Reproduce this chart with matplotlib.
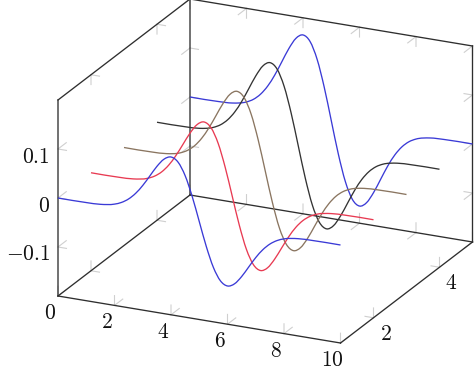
import numpy as np
import matplotlib
matplotlib.use("Agg")
from matplotlib import pyplot as plt
from matplotlib.path import Path
from matplotlib.patches import PathPatch

plt.rcParams["mathtext.fontset"] = "cm"

# 곡선 데이터
x = [0, 1, 1.5, 2, 2.25, 2.5, 2.75, 3, 3.25, 3.5, 3.75, 4, 4.25, 4.5, 4.75, 5,
     5.25, 5.5, 5.75, 6, 6.25, 6.5, 6.75, 7, 7.25, 7.5, 7.75, 8, 8.5, 9, 10]
z1 = [0, .0003, .0015, .0067, .0126, .0221, .0360, .0544, .0761, .0980, .1151, .1220, .1139, .0888, .0487, 0,
      -.0487, -.0888, -.1139, -.1220, -.1151, -.0980, -.0761, -.0544, -.0360, -.0221, -.0126, -.0067, -.0015, -.0003, 0]
z2 = [0, .0003, .0018, .0078, .0147, .0257, .0419, .0634, .0886, .1140, .1340, .1420, .1325, .1033, .0567, 0,
      -.0567, -.1033, -.1325, -.1420, -.1340, -.1140, -.0886, -.0634, -.0419, -.0257, -.0147, -.0078, -.0018, -.0003, 0]
z3 = [0, .0003, .0019, .0084, .0158, .0277, .0452, .0683, .0955, .1229, .1444, .1530, .1428, .1113, .0611, 0,
      -.0611, -.1113, -.1428, -.1530, -.1444, -.1229, -.0955, -.0683, -.0452, -.0277, -.0158, -.0084, -.0019, -.0003, 0]
z4 = [0, .0004, .0020, .0088, .0165, .0290, .0472, .0714, .0999, .1285, .1510, .1600, .1493, .1164, .0639, 0,
      -.0639, -.1164, -.1493, -.1600, -.1510, -.1285, -.0999, -.0714, -.0472, -.0290, -.0165, -.0088, -.0020, -.0004, 0]
z5 = [0, .0004, .0021, .0091, .0170, .0299, .0487, .0736, .1030, .1325, .1557, .1650, .1540, .1200, .0659, 0,
      -.0659, -.1200, -.1540, -.1650, -.1557, -.1325, -.1030, -.0736, -.0487, -.0299, -.0170, -.0091, -.0021, -.0004, 0]
curves = [z1, z2, z3, z4, z5]
y_levels = [1, 2, 3, 4, 5]
colors = ["#3a3ad6", "#e83a52", "#8a7560", "#333333", "#3a3ad6"]

x_ticks = [0, 2, 4, 6, 8, 10]
y_ticks = [2, 4]
z_ticks = [-0.1, 0, 0.1]
z_labels = [r"$-0.1$", r"$0$", r"$0.1$"]
x_lim = (0, 10)
y_lim = (1, 5)
z_lim = (-0.2, 0.2)


# 3차원 좌표 -> 그림 픽셀 좌표 (평행 투영)
def proj(px, py, pz):
    px, py, pz = np.asarray(px, float), np.asarray(py, float), np.asarray(pz, float)
    return (58 + 28.25 * px + 33 * (py - 1),
            198 + 4.7 * px - 25.25 * (py - 1) - 490 * pz)


def seg(ax, p, q, **kw):
    a, b = proj(*p), proj(*q)
    ax.plot([a[0], b[0]], [a[1], b[1]], solid_capstyle="projecting", snap=False, **kw)


# 같은 점을 지나는 베지어 경로 (선이 꺾여 보이지 않게)
def smooth_path(px, py):
    pts = np.column_stack([px, py])
    tan = np.gradient(pts, np.asarray(x, float), axis=0)
    verts = [pts[0]]
    codes = [Path.MOVETO]
    for i in range(len(pts) - 1):
        h = (x[i + 1] - x[i]) / 3
        verts += [pts[i] + tan[i] * h, pts[i + 1] - tan[i + 1] * h, pts[i + 1]]
        codes += [Path.CURVE4] * 3
    return Path(verts, codes)


fig = plt.figure(figsize=(4.74, 3.74), dpi=100)
ax = fig.add_axes([0, 0, 1, 1])
ax.set_xlim(0, 474)
ax.set_ylim(374, 0)
ax.axis("off")

x0, x1 = x_lim
y0, y1 = y_lim
z0, z1_ = z_lim

# 눈금 (회색, 벽면 안쪽으로)
tick = dict(color="#cfcfcf", lw=0.8, zorder=1)
dx, dy, dz = 0.3, 0.25, 0.02
for v in x_ticks:
    seg(ax, (v, y0, z0), (v, y0, z0 + dz), **tick)
    seg(ax, (v, y0, z0), (v, y0 + dy, z0), **tick)
    seg(ax, (v, y1, z0), (v, y1 - dy, z0), **tick)
    seg(ax, (v, y1, z0), (v, y1, z0 + dz), **tick)
    seg(ax, (v, y1, z1_), (v, y1, z1_ - dz), **tick)
    seg(ax, (v, y1, z1_), (v, y1 - dy, z1_), **tick)
for v in y_ticks:
    seg(ax, (x0, v, z0), (x0 + dx, v, z0), **tick)
    seg(ax, (x0, v, z0), (x0, v, z0 + dz), **tick)
    seg(ax, (x1, v, z0), (x1 - dx, v, z0), **tick)
    seg(ax, (x1, v, z0), (x1, v, z0 + dz), **tick)
    seg(ax, (x0, v, z1_), (x0 + dx, v, z1_), **tick)
    seg(ax, (x0, v, z1_), (x0, v, z1_ - dz), **tick)
for v in z_ticks:
    seg(ax, (x0, y0, v), (x0 + dx, y0, v), **tick)
    seg(ax, (x0, y0, v), (x0, y0 + dy, v), **tick)
    seg(ax, (x0, y1, v), (x0 + dx, y1, v), **tick)
    seg(ax, (x0, y1, v), (x0, y1 - dy, v), **tick)
    seg(ax, (x1, y1, v), (x1 - dx, y1, v), **tick)
    seg(ax, (x1, y1, v), (x1, y1 - dy, v), **tick)

# 상자 테두리
box = dict(color="#2e2e2e", lw=0.95, zorder=2)
seg(ax, (x0, y0, z0), (x0, y0, z1_), **box)
seg(ax, (x0, y0, z1_), (x0, y1, z1_), **box)
seg(ax, (x0, y1, z1_), (x0, y1, z0), **box)
seg(ax, (x0, y0, z0), (x0, y1, z0), **box)
seg(ax, (x0, y1, z1_), (x1, y1, z1_), **box)
seg(ax, (x1, y1, z1_), (x1, y1, z0), **box)
seg(ax, (x0, y1, z0), (x1, y1, z0), **box)
seg(ax, (x0, y0, z0), (x1, y0, z0), **box)
seg(ax, (x1, y0, z0), (x1, y1, z0), **box)

# 곡선: 뒤쪽부터 그리기
for lev, zs, c in reversed(list(zip(y_levels, curves, colors))):
    px, py = proj(x, np.full(len(x), lev), zs)
    ax.add_patch(PathPatch(smooth_path(px, py), fill=False, edgecolor=c, lw=0.95,
                           capstyle="butt", zorder=3))

# 눈금 라벨
fs = 15.5
for v in x_ticks:
    a, b = proj(v, y0, z0)
    ax.text(a - 8, b + 17, rf"${v}$", fontsize=fs, ha="center", va="center", color="#111111")
for v in y_ticks:
    a, b = proj(x1, v, z0)
    ax.text(a + 12, b + 16, rf"${v}$", fontsize=fs, ha="center", va="center", color="#111111")
for v, s in zip(z_ticks, z_labels):
    a, b = proj(x0, y0, v)
    ax.text(a - 8, b + 13.5, s, fontsize=fs, ha="right", va="baseline", color="#111111")

fig.savefig("out.png", dpi=100)
